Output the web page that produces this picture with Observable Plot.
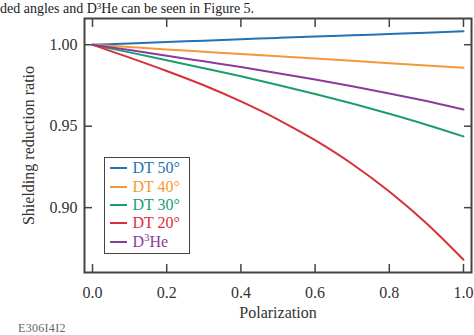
<!DOCTYPE html>
<html>
<head>
<meta charset="utf-8">
<script src="https://cdn.jsdelivr.net/npm/d3@7"></script>
<script src="https://cdn.jsdelivr.net/npm/@observablehq/plot@0.6"></script>
<style>
  html, body { margin: 0; padding: 0; background: #fff; }
  #wrap { position: relative; width: 474px; height: 335px; overflow: hidden; font-family: "Liberation Serif", serif; }
  #toptext { position: absolute; left: 0; top: 2px; font-size: 14px; line-height: 14px; color: #222; white-space: nowrap; }
  #caption { position: absolute; left: 18px; top: 322px; font-size: 12px; line-height: 12px; color: #666; letter-spacing: 0.3px; }
  #legend { position: absolute; left: 104px; top: 157px; width: 84px; height: 94px; border: 1.5px solid #444; background: #fff; padding-top: 1px; box-sizing: content-box; }
  .row { height: 18.4px; display: flex; align-items: center; font-size: 16px; white-space: nowrap; }
  .sw { display: inline-block; width: 17px; height: 2px; margin-left: 4.5px; margin-right: 6px; }
  #chart svg { display: block; color: #333; font-family: "Liberation Serif", serif !important; font-size: 16px !important; }
  #chart svg text { font-family: "Liberation Serif", serif !important; font-size: 16px !important; font-variant: normal !important; fill: #333; }
</style>
</head>
<body>
<div id="wrap">
  <div id="chart"></div>
  <div id="toptext">ded angles and D<sup style="font-size:9px;vertical-align:4px;line-height:0">3</sup>He can be seen in Figure 5.</div>
  <div id="legend"></div>
  <div id="caption">E306I4I2</div>
</div>
<script>
// ---- data ----
const polarization = [0, 0.1, 0.2, 0.3, 0.4, 0.5, 0.6, 0.7, 0.8, 0.9, 1.0];
const dt50 = [1.0000, 1.0008, 1.0017, 1.0025, 1.0034, 1.0042, 1.0050, 1.0058, 1.0066, 1.0074, 1.0082];
const dt40 = [1.0000, 0.9986, 0.9971, 0.9957, 0.9943, 0.9929, 0.9915, 0.9901, 0.9887, 0.9873, 0.9859];
const dt30 = [1.0000, 0.9953, 0.9905, 0.9856, 0.9806, 0.9753, 0.9698, 0.9639, 0.9576, 0.9509, 0.9437];
const dt20 = [1.0000, 0.9921, 0.9839, 0.9751, 0.9652, 0.9541, 0.9414, 0.9268, 0.9099, 0.8904, 0.8680];
const d3he = [1.0000, 0.9967, 0.9933, 0.9898, 0.9863, 0.9825, 0.9786, 0.9745, 0.9701, 0.9654, 0.9603];
const seriesNames = ["DT 50°", "DT 40°", "DT 30°", "DT 20°", "D3He"];
const seriesValues = [dt50, dt40, dt30, dt20, d3he];
const seriesColors = ["#2472b3", "#f39a36", "#1b9e6f", "#d7303c", "#8c3b9d"];
const xTicks = [0, 0.2, 0.4, 0.6, 0.8, 1.0];
const yTicks = [0.90, 0.95, 1.00];

const rows = [];
seriesNames.forEach((name, i) => {
  seriesValues[i].forEach((v, j) => rows.push({series: name, x: polarization[j], y: v}));
});

const blank = () => "";
const chart = Plot.plot({
  width: 474,
  height: 335,
  marginLeft: 84,
  marginRight: 3,
  marginTop: 18,
  marginBottom: 63,
  x: {domain: [-0.0216, 1.0216]},
  y: {domain: [0.8602, 1.0161]},
  color: {domain: seriesNames, range: seriesColors},
  style: {background: "transparent", overflow: "visible"},
  marks: [
    Plot.axisX(xTicks, {anchor: "bottom", tickSize: 0, tickPadding: 14, tickFormat: d => d.toFixed(1),
      label: "Polarization", labelAnchor: "center", labelOffset: 45, labelArrow: "none"}),
    Plot.axisX(xTicks, {anchor: "bottom", tickSize: -8, tickFormat: blank, label: null, stroke: "#444", strokeWidth: 1.5}),
    Plot.axisX(xTicks, {anchor: "top", tickSize: -8, tickFormat: blank, label: null, stroke: "#444", strokeWidth: 1.5}),
    Plot.axisY(yTicks, {anchor: "left", tickSize: 0, tickPadding: 7, tickFormat: d => d.toFixed(2),
      label: "Shielding reduction ratio", labelAnchor: "center", labelOffset: 62, labelArrow: "none"}),
    Plot.axisY(yTicks, {anchor: "left", tickSize: -8, tickFormat: blank, label: null, stroke: "#444", strokeWidth: 1.5}),
    Plot.axisY(yTicks, {anchor: "right", tickSize: -8, tickFormat: blank, label: null, stroke: "#444", strokeWidth: 1.5}),
    Plot.line(rows, {x: "x", y: "y", z: "series", stroke: "series", strokeWidth: 2, curve: "monotone-x"}),
    Plot.frame({stroke: "#444", strokeWidth: 2})
  ]
});
document.getElementById("chart").appendChild(chart);

// legend
const leg = document.getElementById("legend");
seriesNames.forEach((name, i) => {
  const r = document.createElement("div");
  r.className = "row";
  r.style.color = seriesColors[i];
  const sw = document.createElement("span");
  sw.className = "sw";
  sw.style.background = seriesColors[i];
  r.appendChild(sw);
  const t = document.createElement("span");
  if (name === "D3He") {
    t.innerHTML = 'D<sup style="font-size:11px;vertical-align:6px;line-height:0">3</sup>He';
  } else {
    t.textContent = name;
  }
  r.appendChild(t);
  leg.appendChild(r);
});
</script>
</body>
</html>
